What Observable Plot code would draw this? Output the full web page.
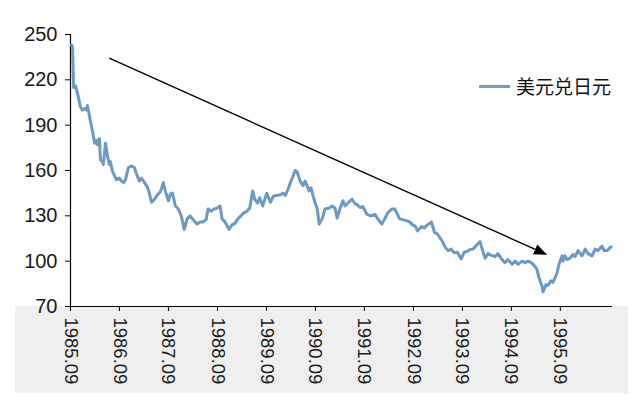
<!DOCTYPE html>
<html><head><meta charset="utf-8">
<script src="https://cdn.jsdelivr.net/npm/d3@7"></script>
<script src="https://cdn.jsdelivr.net/npm/@observablehq/plot@0.6"></script>
<style>
html,body{margin:0;padding:0;background:#fff;}
#wrap{position:relative;width:640px;height:395px;overflow:hidden;}
#band{position:absolute;left:15px;top:306px;width:613px;height:87px;background:#efefef;}
#chart{position:absolute;left:0;top:0;}
#legend{position:absolute;left:479px;top:72px;display:flex;align-items:center;gap:6px;font-family:"Noto Sans CJK SC",sans-serif;font-size:19px;color:#111;line-height:28px;}
#legend .sw{display:inline-block;width:31px;height:3px;background:#7d9db3;}
</style></head><body>
<div id="wrap"><div id="band"></div><div id="chart"></div><div id="legend"><span class="sw"></span><span id="legtext"></span></div></div>
<script>
const seriesName = "美元兑日元";
const dates = ["1985-09-09","1985-09-16","1985-09-24","1985-10-08","1985-10-23","1985-11-14","1985-11-29","1985-12-13","1985-12-28",
"1986-01-04","1986-01-12","1986-01-27","1986-02-12","1986-02-28","1986-03-14","1986-03-21","1986-04-05","1986-04-12","1986-04-27","1986-05-04","1986-05-20","1986-06-03","1986-06-17","1986-06-25","1986-07-09","1986-07-24","1986-08-09","1986-08-31","1986-09-16","1986-10-01","1986-10-16","1986-11-07","1986-11-29","1986-12-21",
"1987-01-05","1987-01-27","1987-02-12","1987-03-07","1987-03-22","1987-04-06","1987-04-28","1987-05-20","1987-06-12","1987-07-03","1987-07-26","1987-08-10","1987-09-01","1987-09-16","1987-10-01","1987-10-23","1987-11-14","1987-12-06","1987-12-28",
"1988-01-19","1988-02-10","1988-03-03","1988-04-02","1988-04-24","1988-05-16","1988-06-08","1988-06-23","1988-07-15","1988-08-06","1988-08-28","1988-09-20","1988-10-05","1988-10-27","1988-11-26","1988-12-18",
"1989-01-09","1989-01-31","1989-02-22","1989-03-16","1989-04-07","1989-04-29","1989-05-21","1989-06-05","1989-06-27","1989-07-12","1989-08-04","1989-09-03","1989-10-01","1989-10-23","1989-11-14","1989-12-14",
"1990-01-05","1990-01-20","1990-02-11","1990-02-26","1990-03-19","1990-04-03","1990-04-18","1990-05-10","1990-06-01","1990-06-16","1990-07-01","1990-07-16","1990-07-31","1990-08-15","1990-08-30","1990-09-14","1990-09-29","1990-10-21","1990-11-12","1990-12-11",
"1991-01-04","1991-01-26","1991-02-10","1991-03-04","1991-03-26","1991-04-10","1991-05-02","1991-06-01","1991-06-23","1991-07-08","1991-07-30","1991-08-21","1991-09-20","1991-10-19","1991-11-18","1991-12-10",
"1992-01-09","1992-01-31","1992-02-22","1992-03-23","1992-04-14","1992-04-29","1992-05-21","1992-06-12","1992-07-04","1992-08-03","1992-08-25","1992-09-16","1992-10-01","1992-10-30","1992-11-22","1992-12-14",
"1993-01-13","1993-02-05","1993-02-27","1993-03-21","1993-04-05","1993-04-27","1993-05-19","1993-06-10","1993-07-02","1993-07-24","1993-08-23","1993-09-15","1993-10-07","1993-10-29","1993-11-20","1993-12-20",
"1994-01-11","1994-01-26","1994-02-17","1994-03-11","1994-04-02","1994-05-02","1994-05-24","1994-06-15","1994-07-15","1994-08-06","1994-09-07","1994-09-29","1994-10-21","1994-11-20","1994-12-12",
"1995-01-04","1995-01-26","1995-02-10","1995-03-11","1995-03-26","1995-04-17","1995-04-25","1995-05-17","1995-06-01","1995-06-23","1995-07-08","1995-07-23","1995-08-07","1995-08-22","1995-09-14","1995-09-21","1995-10-06","1995-10-21","1995-11-13","1995-12-05","1995-12-20",
"1996-01-11","1996-02-10","1996-03-04","1996-03-26","1996-04-25","1996-05-17","1996-06-08","1996-07-08","1996-07-23","1996-08-14","1996-09-13"];
const values = [243,242,215,216,211,202,200,201,200,
203,200,193,186,178,180,177,181,167,166,164,178,170,164,166,160,157,154,155,153,152,154,162,163,162,
158,153,155,152,150,147,139,141,144,146,152,146,140,144.5,145,136.5,134.5,130,121,
128,130,127.5,124.5,126,126,127.5,134.5,133,134.5,135,136.5,128,126,121,124,
125,128,130,132,133,135,146.5,141,138.5,142,136.5,145,139,143,143.5,144,
145,143.5,148,152,156.5,160,159,153,150,153,150,146.5,148.5,143,138.5,135,124.5,128,134.5,135,
136.5,135,128.5,135,140,136.5,138.5,141,138,137.5,135.5,136,131,130,131,128,
124.5,128,132,134.5,134.5,132,128,127.5,127,126,124,123,120,123,122,124,
126,119,118,115,113,109,107,108,105.5,106,101.5,106,106.5,107.8,108,111,
113,108,102,105,104,103,105,102,99,101,98,100,98,100,99,
100,99,98,94.5,89,83.5,79.7,84.5,84,87,86,89,92,98,103.5,100,103.5,101,102,104.5,103,
107,103.5,108,105,103.5,108,107,110,107,107,109.5];
const xDomain = ["1985-09-01","1996-09-24"];
const yTicks = [70,100,130,160,190,220,250];
const tickDates = ["1985-09-01","1986-09-01","1987-09-01","1988-09-01","1989-09-01","1990-09-01","1991-09-01","1992-09-01","1993-09-01","1994-09-01","1995-09-01"];
const tickLabels = ["1985.09","1986.09","1987.09","1988.09","1989.09","1990.09","1991.09","1992.09","1993.09","1994.09","1995.09"];
const arrowFrom = {date:"1986-06-17", value:234.3};
const arrowTo = {date:"1995-05-17", value:104.6};

const data = dates.map((d,i)=>({date:new Date(d), value:values[i]}));
const tickD = tickDates.map(d=>new Date(d));
const labelOf = new Map(tickD.map((d,i)=>[+d, tickLabels[i]]));
const arrow = [{x1:new Date(arrowFrom.date), y1:arrowFrom.value, x2:new Date(arrowTo.date), y2:arrowTo.value}];

const chart = Plot.plot({
  width:640, height:395,
  marginLeft:70, marginRight:28, marginTop:34, marginBottom:89,
  style:{background:"transparent", fontFamily:"'Liberation Sans', Arial, sans-serif", fontSize:"18px", color:"#1a1a1a", overflow:"visible"},
  x:{type:"utc", domain:xDomain.map(d=>new Date(d))},
  y:{domain:[yTicks[0], yTicks[yTicks.length-1]]},
  marks:[
    Plot.axisY({ticks:yTicks, tickSize:5, tickPadding:8, label:null, stroke:"#000", fontSize:20}),
    Plot.axisX({ticks:tickD, tickFormat:d=>labelOf.get(+d), tickRotate:90, tickSize:5, tickPadding:6, label:null, stroke:"#000", fontSize:18.5}),
    Plot.ruleX([new Date(xDomain[0])], {stroke:"#000", strokeWidth:1.2}),
    Plot.ruleY([yTicks[0]], {stroke:"#000", strokeWidth:1.2}),
    Plot.line(data, {x:"date", y:"value", stroke:"#6b9bc4", strokeWidth:3, strokeLinejoin:"round"}),
    Plot.link(arrow, {x1:"x1", y1:"y1", x2:"x2", y2:"y2", stroke:"#000", strokeWidth:1.4})
  ]
});
document.getElementById("chart").appendChild(chart);
document.getElementById("legtext").textContent = seriesName;

// filled arrowhead
const ns = "http://www.w3.org/2000/svg";
const defs = document.createElementNS(ns, "defs");
const marker = document.createElementNS(ns, "marker");
marker.setAttribute("id","ah");
marker.setAttribute("markerUnits","userSpaceOnUse");
marker.setAttribute("viewBox","0 0 12 10");
marker.setAttribute("markerWidth","13");
marker.setAttribute("markerHeight","11");
marker.setAttribute("refX","11");
marker.setAttribute("refY","5");
marker.setAttribute("orient","auto");
const mp = document.createElementNS(ns, "path");
mp.setAttribute("d","M0,0L12,5L0,10Z");
mp.setAttribute("fill","#000");
marker.appendChild(mp);
defs.appendChild(marker);
chart.insertBefore(defs, chart.firstChild);
const linkPath = chart.querySelector('g[aria-label="link"] path');
if (linkPath) linkPath.setAttribute("marker-end","url(#ah)");
</script>
</body></html>
